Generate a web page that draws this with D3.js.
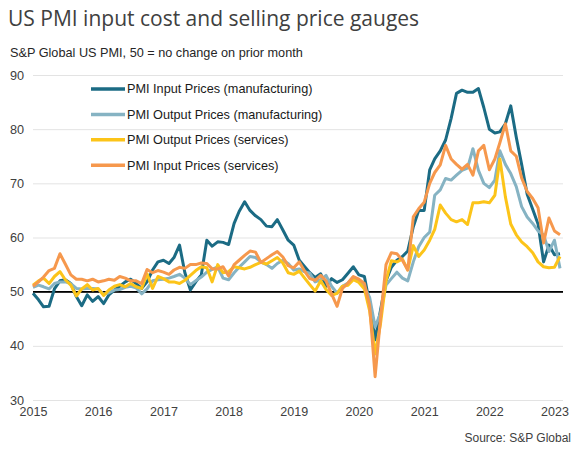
<!DOCTYPE html>
<html>
<head>
<meta charset="utf-8">
<script src="https://cdnjs.cloudflare.com/ajax/libs/d3/7.8.5/d3.min.js"></script>
<style>
body { margin: 0; background: #fff; }
svg text { font-family: "Liberation Sans", Arial, sans-serif; }
</style>
</head>
<body>
<div id="chart"></div>
<script>
// monthly readings, Jan 2015 - Feb 2023
var months = d3.timeMonths(new Date(2015, 0, 1), new Date(2023, 2, 1));

var inputMfg = [
    49.7, 48.5, 47.2, 47.3, 50.5, 52.0, 52.2, 51.5, 49.1, 47.4, 49.4, 48.2,
    49.1, 47.8, 49.4, 50.3, 51.0, 51.8, 52.3, 51.5, 50.6, 51.8, 54.0, 55.5,
    55.8, 55.2, 56.3, 58.6, 53.5, 50.3, 51.8, 53.1, 59.5, 58.4, 59.2, 59.1,
    58.7, 62.6, 64.8, 66.6, 65.0, 64.0, 63.3, 62.1, 62.0, 63.3, 61.4, 59.5,
    58.6, 55.8, 54.7, 53.5, 52.6, 53.3, 51.0, 52.4, 51.7, 52.2, 53.4, 54.6,
    53.1, 52.8, 47.8, 41.1, 46.5, 52.0, 54.5, 55.8, 56.5, 57.5, 62.0, 65.0,
    65.0, 72.5, 74.5, 76.0, 78.0, 82.0, 86.6, 87.2, 86.8, 86.8, 87.5, 84.0,
    80.0, 79.3, 79.5, 81.0, 84.3, 78.5, 73.5, 68.0, 65.2, 62.5, 55.5, 58.6,
    56.8, 57.0
];

var outputMfg = [
    50.8, 51.2, 50.9, 50.5, 51.5, 51.8, 51.8, 51.5, 50.6, 50.5, 50.6, 50.6,
    50.5, 49.5, 49.8, 50.3, 50.4, 50.8, 51.0, 50.7, 49.6, 50.5, 52.0, 52.2,
    52.3, 52.5, 52.8, 53.2, 52.5, 51.3, 52.0, 52.7, 53.6, 54.1, 54.6, 52.5,
    52.2, 53.5, 54.5, 55.5, 56.5, 56.3, 55.5, 55.0, 54.3, 55.2, 55.8, 55.2,
    54.0, 54.2, 53.7, 53.4, 51.8, 52.2, 53.0, 51.0, 49.7, 51.0, 51.6, 52.7,
    51.8, 50.8, 49.0, 43.5, 46.0, 51.2, 52.4, 53.6, 52.5, 52.0, 55.5, 58.3,
    60.0, 61.0, 67.8, 68.8, 70.9, 70.6, 71.5, 72.4, 72.8, 76.4, 72.4, 70.0,
    69.2, 70.6, 76.0, 73.5, 71.8, 69.4, 65.7, 63.8, 62.6, 61.2, 60.5, 57.4,
    59.5, 54.3
];

var outputServ = [
    51.2, 52.0, 52.5, 51.5, 52.8, 53.7, 52.2, 51.2, 49.2, 50.5, 51.3, 50.3,
    50.6, 49.3, 50.3, 51.0, 51.3, 50.9, 51.5, 50.9, 50.6, 53.3, 50.6, 52.8,
    52.4, 51.8, 51.8, 51.5, 52.1, 53.0, 53.9, 54.6, 54.4, 51.8, 55.0, 53.5,
    53.7, 54.6, 54.4, 54.2, 54.5, 55.0, 55.4, 55.1, 55.7, 56.3, 55.3, 53.5,
    53.2, 53.8, 52.6, 51.3, 50.1, 52.0, 50.4, 49.3, 49.7, 51.0, 51.2, 52.2,
    51.7, 50.5, 46.5, 38.5, 44.0, 52.0, 55.7, 55.5, 56.0, 54.0, 58.5, 56.5,
    57.7, 59.5, 61.5, 66.0, 64.5, 63.3, 62.9, 63.3, 62.4, 66.4, 66.4, 66.6,
    66.4, 67.8, 74.5, 67.5, 62.5, 60.5, 59.2, 58.3, 57.2, 55.5, 54.6, 54.4,
    54.5, 56.5
];

var inputServ = [
    51.0, 51.8, 52.7, 53.9, 54.3, 57.0, 55.1, 53.1, 52.3, 52.3, 52.0, 52.3,
    51.8, 52.0, 52.3, 52.1, 52.8, 52.5, 52.0, 52.0, 51.5, 54.1, 53.5, 53.9,
    53.6, 53.2, 54.0, 54.5, 54.3, 55.0, 55.0, 55.3, 55.2, 54.2, 54.2, 54.6,
    52.9, 55.0, 55.8, 56.7, 57.5, 57.3, 55.4, 56.1, 56.8, 57.4, 56.4, 54.8,
    54.4, 55.5, 53.9, 52.4, 52.1, 53.0, 52.0, 49.6, 47.3, 50.6, 51.6, 52.8,
    52.3, 51.5, 47.5, 34.3, 45.0, 55.0, 57.2, 57.0, 55.8, 54.0, 63.8, 65.3,
    66.5, 70.0, 72.0, 73.4, 77.0, 74.5, 73.5, 72.6, 73.5, 71.5, 76.0, 77.0,
    72.5, 74.5, 77.5, 81.0, 76.0, 75.0, 71.0, 68.5, 67.2, 65.5, 59.0, 63.6,
    61.2, 60.5
];

var seriesNames = [
    'PMI Input Prices (manufacturing)',
    'PMI Output Prices (manufacturing)',
    'PMI Output Prices (services)',
    'PMI Input Prices (services)'
];
var seriesColors = ['#1b6b84', '#86b3c3', '#fcc419', '#f6984d'];

var yTicks = [30, 40, 50, 60, 70, 80, 90];
var yearTicks = [2015, 2016, 2017, 2018, 2019, 2020, 2021, 2022, 2023];

var svgWidth = 578;
var svgHeight = 451;

var svg = d3.select('#chart').append('svg')
    .attr('width', svgWidth)
    .attr('height', svgHeight)

var plotLeft = 33;
var plotRight = 560;
var gridRight = 563;

var xScale = d3.scaleTime()
    .domain([months[0], months[months.length - 1]])
    .range([plotLeft, plotRight])

var yScale = d3.scaleLinear()
    .domain([30, 90])
    .range([400, 75])

// titles
svg.append('text')
    .attr('x', 8)
    .attr('y', 26)
    .style('font-family', '"Open Sans", sans-serif')
    .style('font-size', '21px')
    .attr('fill', '#404040')
    .text('US PMI input cost and selling price gauges')

svg.append('text')
    .attr('x', 10)
    .attr('y', 57)
    .style('font-size', '12.7px')
    .attr('fill', '#262626')
    .text('S&P Global US PMI, 50 = no change on prior month')

// gridlines + y labels
var yAxis = svg.append('g')
    .attr('transform', `translate(${plotLeft},0)`)
    .call(d3.axisLeft(yScale)
        .tickValues(yTicks)
        .tickSize(-(gridRight - plotLeft))
        .tickPadding(9))

yAxis.select('.domain').remove()
yAxis.selectAll('.tick line')
    .attr('stroke', d => d === 50 ? '#000' : '#e3e3e3')
    .attr('stroke-width', d => d === 50 ? 1.4 : 1)
yAxis.selectAll('.tick text')
    .style('font-size', '12.7px')
    .attr('fill', '#404040')
    .style('font-family', '"Liberation Sans", Arial, sans-serif')

// year labels
var xAxis = svg.append('g')
    .attr('transform', 'translate(0,405)')
    .call(d3.axisBottom(xScale)
        .tickValues(yearTicks.map(y => new Date(y, 0, 1)))
        .tickFormat(d3.timeFormat('%Y'))
        .tickSize(0)
        .tickPadding(2))

xAxis.select('.domain').remove()
xAxis.selectAll('.tick text')
    .style('font-size', '12.5px')
    .attr('fill', '#404040')
    .style('font-family', '"Liberation Sans", Arial, sans-serif')

// the 50 line goes on top of the grid
svg.append('line')
    .attr('x1', plotLeft)
    .attr('x2', gridRight)
    .attr('y1', yScale(50))
    .attr('y2', yScale(50))
    .attr('stroke', '#000')
    .attr('stroke-width', 1.4)

var allSeries = [inputMfg, outputMfg, outputServ, inputServ];

var line = d3.line()
    .x((d, i) => xScale(months[i]))
    .y(d => yScale(d))

svg.selectAll('.series')
    .data(allSeries)
    .enter()
    .append('path')
    .classed('series', true)
    .attr('d', d => line(d))
    .attr('fill', 'none')
    .attr('stroke', (d, i) => seriesColors[i])
    .attr('stroke-width', 3)
    .attr('stroke-linejoin', 'round')

// legend
var legend = svg.selectAll('.legend')
    .data(seriesNames)
    .enter()
    .append('g')
    .classed('legend', true)
    .attr('transform', (d, i) => `translate(91,${89 + i * 25.4})`)

legend.append('line')
    .attr('x1', 0)
    .attr('x2', 34)
    .attr('stroke', (d, i) => seriesColors[i])
    .attr('stroke-width', 3.5)

legend.append('text')
    .attr('x', 36)
    .attr('dy', '0.35em')
    .style('font-size', '12.7px')
    .attr('fill', '#1a1a1a')
    .text(d => d)

svg.append('text')
    .attr('x', 571)
    .attr('y', 442)
    .attr('text-anchor', 'end')
    .style('font-size', '12px')
    .attr('fill', '#404040')
    .text('Source: S&P Global')
</script>
</body>
</html>
